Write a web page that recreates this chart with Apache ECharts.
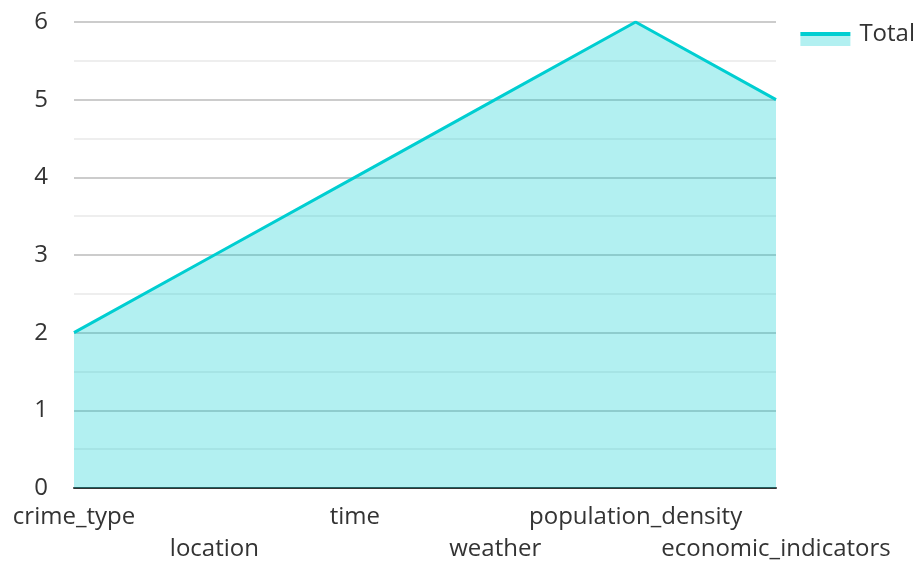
<!DOCTYPE html>
<html><head><meta charset="utf-8">
<script src="https://cdn.jsdelivr.net/npm/echarts@6/dist/echarts.min.js"></script>
<style>html,body{margin:0;padding:0;background:#fff}#c{width:917px;height:562px}</style>
</head><body><div id="c"></div>
<script>
const categories = ['crime_type','location','time','weather','population_density','economic_indicators'];
const totalValues = [2, 3, 4, 5, 6, 5];
const seriesName = 'Total';

const chart = echarts.init(document.getElementById('c'), null, {renderer:'canvas'});
chart.setOption({
  animation: false,
  textStyle: {fontFamily: 'Open Sans'},
  grid: {left: 74, right: 141, top: 22, bottom: 74, outerBoundsMode: 'none', containLabel: false},
  legend: {
    right: 2, top: 22, padding: 0,
    icon: 'rect',
    itemWidth: 50, itemHeight: 24, itemGap: 10,
    itemStyle: {
      color: new echarts.graphic.LinearGradient(0, 0, 0, 1, [
        {offset: 0, color: 'rgba(255,255,255,0)'}, {offset: 0.4167, color: 'rgba(255,255,255,0)'},
        {offset: 0.4167, color: '#00CED1'}, {offset: 0.5833, color: '#00CED1'},
        {offset: 0.5833, color: '#B2F0F1'}, {offset: 1, color: '#B2F0F1'}
      ]),
      borderWidth: 0
    },
    textStyle: {fontSize: 24, color: '#333', fontFamily: 'Open Sans', padding: [0, 0, 0, 4]},
    data: [seriesName]
  },
  xAxis: {
    type: 'category', data: categories, boundaryGap: false,
    axisLine: {lineStyle: {color: '#333', width: 2}},
    axisTick: {show: false},
    axisLabel: {
      interval: 0, fontSize: 24, color: '#333', margin: 13, lineHeight: 32,
      formatter: (v, i) => (i % 2 === 1 ? '\n' + v : v)
    }
  },
  yAxis: {
    type: 'value', min: 0, max: 6, interval: 1,
    axisLabel: {fontSize: 24, color: '#333', margin: 26},
    axisLine: {show: false}, axisTick: {show: false},
    splitLine: {lineStyle: {color: '#ccc', width: 2}},
    minorTick: {show: false, splitNumber: 2},
    minorSplitLine: {show: true, lineStyle: {color: '#eee', width: 2}}
  },
  series: [{
    name: seriesName, type: 'line', data: totalValues,
    symbol: 'none',
    lineStyle: {color: '#00CED1', width: 3},
    itemStyle: {color: '#00CED1'},
    areaStyle: {color: '#00CED1', opacity: 0.3}
  }]
});
</script></body></html>
